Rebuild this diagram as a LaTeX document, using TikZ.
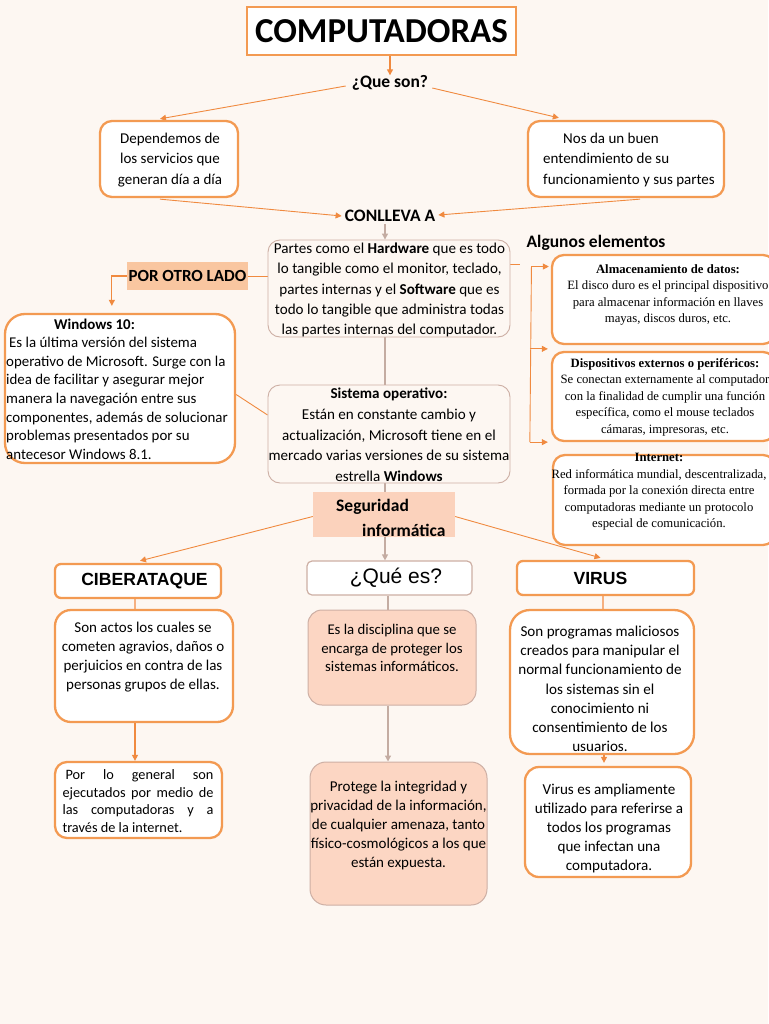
\documentclass[tikz,border=0pt]{standalone}
\usepackage{fontspec}
\setmainfont{Carlito}
\newfontfamily\serifft{Liberation Serif}
\newfontfamily\arialft{Liberation Sans}
\usetikzlibrary{arrows.meta,calc}
\definecolor{bgc}{HTML}{FDF7F2}
\definecolor{orng}{HTML}{F08A40}
\definecolor{orngb}{HTML}{F39A52}
\definecolor{lorng}{HTML}{F6B080}
\definecolor{greyb}{HTML}{CDAFA4}
\definecolor{garr}{HTML}{C4ACA2}
\definecolor{peach}{HTML}{F9C6A0}
\definecolor{segf}{HTML}{FBD2BC}
\definecolor{pinkf}{HTML}{FCD6C3}
\pgfdeclarelayer{back}
\pgfdeclarelayer{lines}
\pgfsetlayers{back,lines,main}
\tikzset{
  obox/.style={draw=orngb, line width=2.3pt, fill=white, rounded corners=12pt, inner sep=0pt},
  gbox/.style={draw=greyb, line width=0.9pt, fill=bgc, rounded corners=12pt, inner sep=0pt},
  pbox/.style={draw=greyb, line width=1pt, fill=pinkf, rounded corners=14pt, inner sep=0pt},
  txt/.style={align=center, inner sep=0pt, font=\fontsize{15}{19.5}\selectfont},
  stxt/.style={align=center, inner sep=0pt, font=\serifft\fontsize{12.7}{16.5}\selectfont},
  btxt/.style={inner sep=0pt, font=\bfseries\fontsize{17.5}{20}\selectfont},
  oline/.style={draw=orng, line width=0.9pt},
  lline/.style={draw=lorng, line width=1.2pt},
  gline/.style={draw=garr, line width=1.2pt},
  oarrow/.style={oline, -{Triangle[length=6pt,width=6pt]}},
  larrow/.style={draw=orng, line width=1.2pt, -{Triangle[length=6pt,width=6pt]}},
  garrow/.style={gline, -{Triangle[length=6pt,width=6pt]}},
}
\begin{document}
\begin{tikzpicture}[x=1pt,y=-1pt]
\begin{pgfonlayer}{back}
\fill[bgc] (0,0) rectangle (768,1024);
\end{pgfonlayer}
\useasboundingbox (0,0) rectangle (768,1024);

% title
\node[draw=orngb, line width=2.5pt, fill=white, minimum width=269, minimum height=48, inner sep=0pt,
      font=\bfseries\fontsize{35}{38}\selectfont] (title) at (381.5,31) {COMPUTADORAS};
\node[btxt] (queson) at (390,83) {¿Que son?};

% first level
\node[obox, minimum width=138, minimum height=76] (dep) at (169,159) {};
\node[txt, font=\fontsize{15}{20.5}\selectfont] (dept) at (170,160) {Dependemos de\\los servicios que\\generan día a día};
\node[obox, minimum width=196, minimum height=76] (nos) at (626,159) {};
\node[txt, align=left, anchor=west, font=\fontsize{15}{20.5}\selectfont] (nost) at (543,160) {\hspace*{20pt}Nos da un buen\\entendimiento de su\\funcionamiento y sus partes};

\node[btxt] (conl) at (390,216) {CONLLEVA A};

% parts
\node[gbox, minimum width=242, minimum height=97] (parts) at (389,288.5) {};
\node[txt, font=\fontsize{15.1}{20.2}\selectfont] (partst) at (389.5,290) {Partes como el \textbf{Hardware} que es todo\\lo tangible como el monitor, teclado,\\partes internas y el \textbf{Software} que es\\todo lo tangible que administra todas\\las partes internas del computador.};

\node[btxt] (alg) at (596,243) {Algunos elementos};

% right serif boxes
\node[obox, minimum width=223, minimum height=89] (alma) at (663.5,299.5) {};
\node[stxt] (almat) at (668,295) {\textbf{Almacenamiento de datos:}\\El disco duro es el principal dispositivo\\para almacenar información en llaves\\mayas, discos duros, etc.};
\node[obox, minimum width=223, minimum height=89] (disp) at (663.5,396.5) {};
\node[stxt] (dispt) at (665,397) {\textbf{Dispositivos externos o periféricos:}\\Se conectan externamente al computador\\con la finalidad de cumplir una función\\específica, como el mouse teclados\\cámaras, impresoras, etc.};
\node[obox, minimum width=222, minimum height=90] (inet) at (664,500) {};
\node[stxt] (inett) at (659,492) {\textbf{Internet:}\\Red informática mundial, descentralizada,\\formada por la conexión directa entre\\computadoras mediante un protocolo\\especial de comunicación.};

% por otro lado / windows
\node[fill=peach, minimum width=121, minimum height=28, inner sep=0pt, font=\bfseries\fontsize{17}{19}\selectfont] (pol) at (187.5,276) {POR OTRO LADO};
\node[obox, rounded corners=20pt, minimum width=230, minimum height=149] (win) at (120,388.5) {};
\node[txt, align=left, anchor=west, font=\fontsize{14.9}{18.6}\selectfont] (wint) at (6,389) {\hspace*{48pt}\textbf{Windows 10:}\\\hspace*{3pt}Es la última versión del sistema\\operativo de Microsoft. Surge con la\\idea de facilitar y asegurar mejor\\manera la navegación entre sus\\componentes, además de solucionar\\problemas presentados por su\\antecesor Windows 8.1.};

% sistema operativo
\node[gbox, minimum width=242, minimum height=98] (so) at (389,434) {};
\node[txt, font=\fontsize{15.1}{20.7}\selectfont] (sot) at (389,435) {\textbf{Sistema operativo:}\\Están en constante cambio y\\actualización, Microsoft tiene en el\\mercado varias versiones de su sistema\\estrella \textbf{Windows}};

% seguridad
\node[fill=segf, minimum width=142, minimum height=45, inner sep=0pt] (seg) at (384,514.5) {};
\node[btxt, anchor=west] (seg1) at (336,507) {Seguridad};
\node[btxt, anchor=west] (seg2) at (362,530) {informática};

% level 3 headers
\node[obox, rounded corners=6pt, minimum width=166, minimum height=34, font=\arialft\bfseries\fontsize{17.6}{19}\selectfont] (cib) at (138,581) {\hspace*{13pt}CIBERATAQUE};
\node[draw=greyb, line width=1.2pt, fill=white, rounded corners=5pt, minimum width=165, minimum height=34, inner sep=0pt, font=\arialft\fontsize{21}{23}\selectfont] (que) at (389.5,578) {\hspace*{13pt}¿Qué es?};
\node[obox, rounded corners=6pt, minimum width=177, minimum height=34, font=\arialft\bfseries\fontsize{17.6}{19}\selectfont] (vir) at (605.5,578) {VIRUS\hspace*{10pt}};

% ciberataque column
\node[obox, rounded corners=16pt, minimum width=178, minimum height=112] (c1) at (144,666) {};
\node[txt, font=\fontsize{15}{19}\selectfont] (c1t) at (143,657.5) {Son actos los cuales se\\cometen agravios, daños o\\perjuicios en contra de las\\personas grupos de ellas.};
\node[obox, minimum width=167, minimum height=76] (c2) at (138.5,800) {};
\node[txt, align=justify, text width=151, font=\fontsize{14.3}{17.7}\selectfont] (c2t) at (138,801) {\hspace*{3pt}Por lo general son\linebreak ejecutados por medio de\linebreak las computadoras y a\linebreak través de la internet.};

% que es column
\node[pbox, minimum width=168, minimum height=95] (p1) at (392,657.5) {};
\node[txt, font=\fontsize{14.8}{18.5}\selectfont] (p1t) at (392,648) {Es la disciplina que se\\encarga de proteger los\\sistemas informáticos.};
\node[pbox, rounded corners=16pt, minimum width=177, minimum height=143] (p2) at (398.5,833.5) {};
\node[txt, font=\fontsize{15}{19}\selectfont] (p2t) at (398.5,825) {Protege la integridad y\\privacidad de la información,\\de cualquier amenaza, tanto\\físico-cosmológicos a los que\\están expuesta.};

% virus column
\node[obox, rounded corners=20pt, minimum width=184, minimum height=144] (v1) at (602,682) {};
\node[txt, font=\fontsize{15.1}{19.2}\selectfont] (v1t) at (600,689) {Son programas maliciosos\\creados para manipular el\\normal funcionamiento de\\los sistemas sin el\\conocimiento ni\\consentimiento de los\\usuarios.};
\node[obox, rounded corners=14pt, minimum width=166, minimum height=110] (v2) at (608,822) {};
\node[txt, font=\fontsize{15.1}{19}\selectfont] (v2t) at (609,828) {Virus es ampliamente\\utilizado para referirse a\\todos los programas\\que infectan una\\computadora.};

% connectors
\begin{pgfonlayer}{lines}
\draw[larrow] (title.south -| queson.north) -- (queson.north);
\draw[oarrow] ($(queson.west)+(-6,3)$) -- ($(dep.north)+(-9,-1)$);
\draw[oarrow] ($(queson.east)+(4,5)$) -- ($(nos.north west)+(32,-2)$);
\draw[oarrow] ($(dep.south)+(-9,1)$) -- ($(conl.west)+(-3,0)$);
\draw[oarrow] ($(nos.south)+(14,1)$) -- ($(conl.east)+(3,-1)$);
\draw[garrow] ($(conl.south)+(-5,2)$) -- ($(parts.north)+(-4,0)$);
\draw[gline] ($(parts.south)+(-4,0)$) -- ($(so.north)+(-4,0)$);
% algunos elementos bracket
\coordinate (bk) at ($(parts.north east)+(21,27)$);
\coordinate (bkb) at ($(disp.south west)+(-21,0)$);
\draw[oline] ($(parts.north east)+(0,25)$) -- ($(parts.north east)+(10,25)$);
\draw[oline] (bk) -- (bkb);
\draw[oarrow] (bk) -- ($(alma.west |- bk)+(-2,0)$);
\draw[oarrow] ($(disp.north west)+(-21,-2)$) -- ($(disp.north west)+(-3,-2)$);
\draw[oarrow] (bkb) -- ($(disp.south west)+(-3,0)$);
% por otro lado
\draw[oline] (pol.east) -- (pol.east -| parts.west);
\draw[larrow] (pol.west) -| ($(win.north west)+(108,-7)$);
\draw[oline] ($(win.east)+(0,6)$) -- ($(so.west)+(0,-19)$);
% seguridad
\draw[garrow] ($(so.south)+(-4,0)$) -- ($(que.north)+(-4.5,0)$);
\draw[oarrow] ($(seg.west)+(0,2)$) -- ($(cib.north)+(2,-2)$);
\draw[oarrow] ($(seg.east)+(0,2)$) -- ($(vir.north)+(-5,-2)$);
% columns
\draw[lline] ($(cib.south)+(-3,0)$) -- ($(c1.north)+(-9,0)$);
\draw[larrow] ($(c1.south)+(-9,0)$) -- ($(c2.north)+(-3.5,0)$);
\draw[gline] ($(que.south)+(-1.5,0)$) -- ($(p1.north)+(-4,0)$);
\draw[garrow] ($(p1.south)+(-4,0)$) -- ($(p2.north)+(-10.5,0)$);
\draw[lline] ($(vir.south)+(-2.5,0)$) -- ($(v1.north)+(1,0)$);
\draw[larrow] ($(v1.south)+(2,0)$) -- ($(v2.north)+(-4,-3)$);
\end{pgfonlayer}
\end{tikzpicture}
\end{document}
